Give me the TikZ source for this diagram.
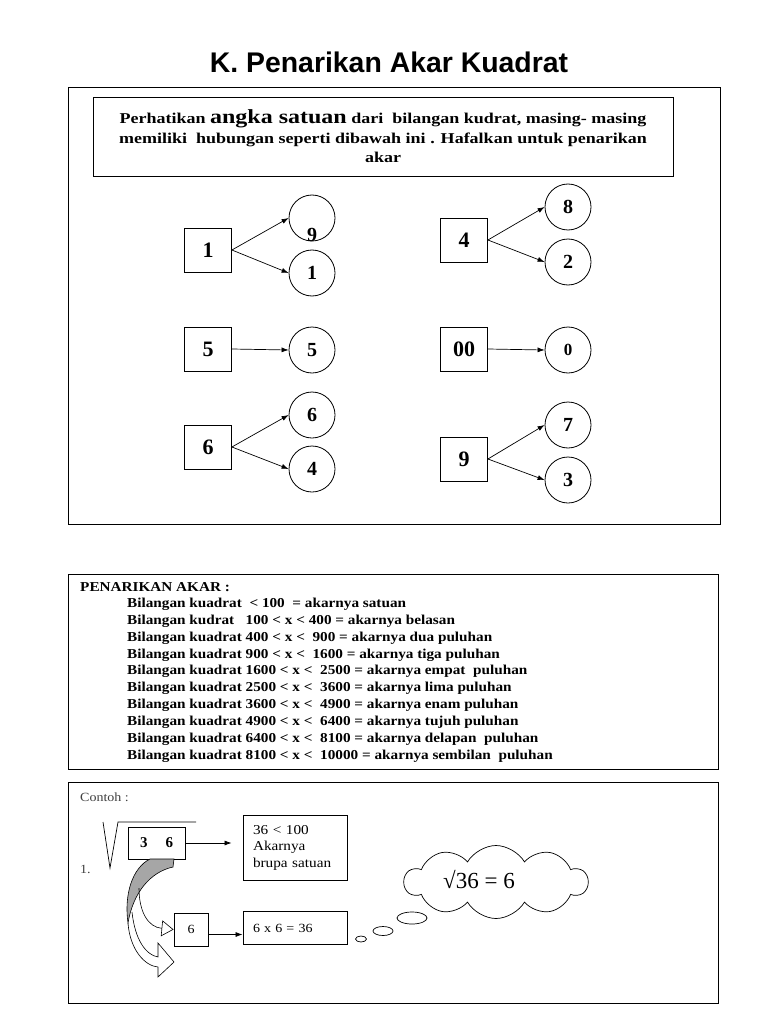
\documentclass[tikz,border=0pt]{standalone}
\usepackage{fontspec}
\setmainfont{Liberation Serif}
\newfontfamily\titlefont{Liberation Sans}
\newfontfamily\introfont[FakeStretch=1.2]{Liberation Serif}
\newfontfamily\widefont[FakeStretch=1.12]{Liberation Serif}
\usetikzlibrary{arrows.meta,positioning,shapes.symbols}

\begin{document}
\begin{tikzpicture}[x=1pt, y=-1pt,
    numbox/.style={draw, line width=0.8pt, minimum width=47pt, minimum height=44pt, inner sep=0pt, font=\bfseries\fontsize{22}{24}\selectfont},
    numcirc/.style={draw, circle, line width=0.8pt, minimum size=46pt, inner sep=0pt, font=\bfseries\fontsize{20}{22}\selectfont},
    arr/.style={-{Latex[length=7pt, width=5pt]}, line width=0.7pt},
    frame/.style={draw, line width=0.9pt, inner sep=0pt}]
  \path[use as bounding box, fill=white] (0,0) rectangle (768,1024);

  % title and upper panel
  \node[font=\titlefont\bfseries\fontsize{28.4}{30}\selectfont] (title) at (389,62) {K. Penarikan Akar Kuadrat};
  \node[frame, minimum width=652pt, minimum height=437pt] (panel) at (394,305.5) {};
  \node[frame, minimum width=580pt, minimum height=79pt, align=center, font=\introfont\bfseries\fontsize{15}{19.5}\selectfont] (intro) at (383,136.5)
    {Perhatikan {\fontsize{20}{20}\selectfont angka satuan} dari\ \ bilangan kudrat, masing- masing\\memiliki\ \ hubungan seperti dibawah ini . Hafalkan untuk penarikan\\akar};

  \node[numbox] (one) at (208,250) {1};
  \node[numcirc] (nine) at (312,218) {};
  \node[font=\bfseries\fontsize{20}{22}\selectfont] (ninetxt) at (312,235) {9};
  \node[numcirc] (onec) at (312,273) {1};
  \draw[arr] (one.east) -- (nine.west);
  \draw[arr] (one.east) -- (onec.west);

  \node[numbox] (four) at (464,240) {4};
  \node[numcirc] (eight) at (568,207) {8};
  \node[numcirc] (two) at (568,262) {2};
  \draw[arr] (four.east) -- (eight.west);
  \draw[arr] (four.east) -- (two.west);

  \node[numbox] (five) at (208,349) {5};
  \node[numcirc] (fivec) at (312,350) {5};
  \draw[arr] (five.east) -- (fivec.west);

  \node[numbox] (zz) at (464,349) {00};
  \node[numcirc, font=\bfseries\fontsize{17}{19}\selectfont] (zero) at (568,350) {0};
  \draw[arr] (zz.east) -- (zero.west);

  \node[numbox] (sixb) at (208,447) {6};
  \node[numcirc] (sixc) at (312,415) {6};
  \node[numcirc] (fourc) at (312,469) {4};
  \draw[arr] (sixb.east) -- (sixc.west);
  \draw[arr] (sixb.east) -- (fourc.west);

  \node[numbox] (nineb) at (464,459) {9};
  \node[numcirc] (seven) at (568,425) {7};
  \node[numcirc] (three) at (568,480) {3};
  \draw[arr] (nineb.east) -- (seven.west);
  \draw[arr] (nineb.east) -- (three.west);

  % rules panel
  \node[frame, minimum width=650pt, minimum height=195pt] (rulebox) at (393,671.5) {};
  \node[anchor=west, inner sep=0pt, font=\widefont\bfseries\fontsize{13.6}{17}\selectfont] (rulehead) at (80,587) {PENARIKAN AKAR :};
  \node[anchor=north west, align=left, inner sep=0pt, font=\widefont\bfseries\fontsize{13.6}{16.9}\selectfont] (rules) at (127,597.7)
    {Bilangan kuadrat\ \ < 100\ \ = akarnya satuan\\
     Bilangan kudrat\ \ \ 100 < x < 400 = akarnya belasan\\
     Bilangan kuadrat 400 < x <\ \ 900 = akarnya dua puluhan\\
     Bilangan kuadrat 900 < x <\ \ 1600 = akarnya tiga puluhan\\
     Bilangan kuadrat 1600 < x <\ \ 2500 = akarnya empat\ \ puluhan\\
     Bilangan kuadrat 2500 < x <\ \ 3600 = akarnya lima puluhan\\
     Bilangan kuadrat 3600 < x <\ \ 4900 = akarnya enam puluhan\\
     Bilangan kuadrat 4900 < x <\ \ 6400 = akarnya tujuh puluhan\\
     Bilangan kuadrat 6400 < x <\ \ 8100 = akarnya delapan\ \ puluhan\\
     Bilangan kuadrat 8100 < x <\ \ 10000 = akarnya sembilan\ \ puluhan};

  % example panel
  \node[frame, minimum width=650pt, minimum height=221pt] (contohbox) at (393,892.5) {};
  \node[anchor=west, inner sep=0pt, text=black!75, font=\widefont\fontsize{12.5}{14}\selectfont] (contoh) at (80,797) {Contoh :};
  \node[anchor=west, inner sep=0pt, text=black!75, font=\widefont\fontsize{12.5}{14}\selectfont] (num) at (80,869) {1.};
  \draw[line width=0.7pt] (103,822) -- (110,868) -- (118,822) -- (196,822);

  \node[frame, minimum width=57pt, minimum height=32pt, font=\bfseries\fontsize{15}{17}\selectfont] (sq) at (156.5,843) {3\hspace{18pt}6};
  \node[frame, minimum width=104pt, minimum height=65pt, text width=84pt, align=left, font=\widefont\fontsize{13.6}{16.5}\selectfont] (cond) at (295,847.5) {36 < 100\\Akarnya\\brupa satuan};
  \node[frame, minimum width=34pt, minimum height=33pt, font=\widefont\fontsize{12.5}{14}\selectfont] (root) at (191,929.5) {6};
  \node[frame, minimum width=104pt, minimum height=33pt, text width=84pt, align=left, font=\widefont\fontsize{12.5}{14}\selectfont] (prod) at (295,928) {6 x 6 = 36};
  \draw[arr, shorten >=11pt] (sq.east) -- (sq.east -| cond.west);
  \draw[arr] ([yshift=-5pt]root.east) -- ([yshift=-5pt]root.east -| prod.west);

  % curved block arrows
  \filldraw[fill=white, line width=0.6pt] (128,923) .. controls (130,950) and (145,966) .. (158,967) -- (158,977) -- (174,962) -- (158,943) -- (158,957) .. controls (146,955) and (135,940) .. (132,912);
  \filldraw[fill=black!35, line width=0.6pt] (150,859) -- (174,859) -- (173,867) .. controls (150,872) and (133,893) .. (128,923) .. controls (124,895) and (132,868) .. cycle;
  \coordinate (bendstart) at (139,888);
  \draw[line width=0.6pt, -{Triangle[open, length=12pt, width=16pt]}] (bendstart) .. controls (139,912) and (148,927) .. (root.west);

  % thought cloud
  \node[draw, cloud, cloud puffs=10, cloud puff arc=120, cloud ignores aspect, minimum width=183pt, minimum height=73pt, line width=0.7pt] (cloud) at (496,882) {};
  \node[font=\fontsize{23}{25}\selectfont] (res) at (479,880) {√36 = 6};
  \draw[line width=0.7pt] (361,939) ellipse [x radius=5.5, y radius=3];
  \draw[line width=0.7pt] (383,931) ellipse [x radius=10, y radius=4.5];
  \draw[line width=0.7pt] (412,918) ellipse [x radius=15, y radius=6];
\end{tikzpicture}
\end{document}
